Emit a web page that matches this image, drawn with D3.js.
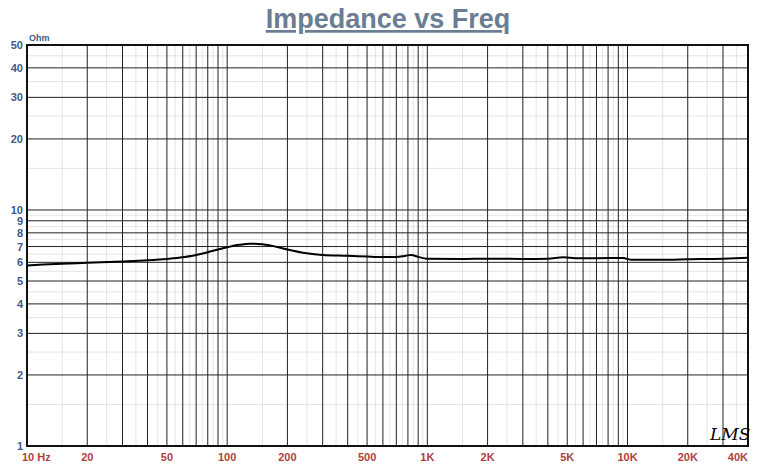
<!DOCTYPE html>
<html><head><meta charset="utf-8">
<script src="https://cdn.jsdelivr.net/npm/d3@7"></script>
<style>body{margin:0;background:#fff}</style></head>
<body><svg id="c" width="765" height="476"></svg>
<script>
var freq = [10, 12, 15, 20, 30, 40, 50, 60, 70, 80, 90, 100, 115, 130, 150, 180, 200, 250, 300, 400, 500, 600, 700, 780, 830, 900, 1000, 1500, 2000, 3000, 4000, 4800, 5500, 7000, 9500, 10500, 15000, 20000, 30000, 40000];
var ohm  = [5.82, 5.87, 5.92, 5.97, 6.05, 6.12, 6.2, 6.3, 6.45, 6.62, 6.8, 6.95, 7.12, 7.2, 7.15, 6.95, 6.8, 6.55, 6.45, 6.4, 6.35, 6.32, 6.32, 6.4, 6.45, 6.33, 6.22, 6.2, 6.22, 6.2, 6.22, 6.3, 6.25, 6.25, 6.26, 6.15, 6.15, 6.18, 6.22, 6.28];
var xTicks = [10, 20, 50, 100, 200, 500, 1000, 2000, 5000, 10000, 20000, 40000];
var xLabels = ['10  Hz', '20', '50', '100', '200', '500', '1K', '2K', '5K', '10K', '20K', '40K'];
var yTicks = [1, 2, 3, 4, 5, 6, 7, 8, 9, 10, 20, 30, 40, 50];

var svg = d3.select('#c');
var L = 27, R = 748, T = 45, B = 446;
var x = d3.scaleLog().domain([10, 40000]).range([L, R]);
var y = d3.scaleLog().domain([1, 50]).range([B, T]);

// grid lines
var major = [], minor = [];
[1, 10, 100, 1000, 10000].forEach(function(d){
	for (var k = 1; k < 10; k++) {
		if (d*k >= 10 && d*k <= 40000) major.push(d*k);
		if (d*(k+0.5) > 10 && d*(k+0.5) < 40000) minor.push(d*(k+0.5));
	}
});
var ymajor = [], yminor = [];
[1, 10].forEach(function(d){
	for (var k = 1; k < 10; k++) {
		if (d*k <= 50) ymajor.push(d*k);
		if (d*(k+0.5) < 50) yminor.push(d*(k+0.5));
	}
});
var g = svg.append('g');
g.selectAll('.vm').data(minor).enter().append('line')
	.attr('x1', x).attr('x2', x).attr('y1', T).attr('y2', B).attr('stroke', '#ddd').attr('stroke-width', 0.8);
g.selectAll('.hm').data(yminor).enter().append('line')
	.attr('y1', y).attr('y2', y).attr('x1', L).attr('x2', R).attr('stroke', '#ddd').attr('stroke-width', 0.8);
g.selectAll('.v').data(major).enter().append('line')
	.attr('x1', x).attr('x2', x).attr('y1', T).attr('y2', B).attr('stroke', '#222').attr('stroke-width', 1);
g.selectAll('.h').data(ymajor).enter().append('line')
	.attr('y1', y).attr('y2', y).attr('x1', L).attr('x2', R).attr('stroke', '#222').attr('stroke-width', 1);
svg.append('rect').attr('x', L).attr('y', T).attr('width', R-L).attr('height', B-T)
	.attr('fill', 'none').attr('stroke', '#111').attr('stroke-width', 2);

// labels
svg.selectAll('.xl').data(xTicks).enter().append('text')
	.attr('x', function(d, i){ return i === 0 ? L - 5 : x(d); })
	.attr('y', B + 15)
	.attr('text-anchor', function(d, i){ return i === 0 ? 'start' : (i === xTicks.length-1 ? 'end' : 'middle'); })
	.attr('font-family', 'Arial Narrow, Liberation Sans Narrow, Liberation Sans, sans-serif')
	.attr('font-size', 11).attr('font-weight', 'bold').attr('fill', '#b04040')
	.attr('transform', 'translate(0,0)')
	.text(function(d, i){ return xLabels[i]; });
svg.selectAll('.yl').data(yTicks).enter().append('text')
	.attr('x', L - 4).attr('y', function(d){ return y(d) + 4; })
	.attr('text-anchor', 'end')
	.attr('font-family', 'Liberation Sans, sans-serif')
	.attr('font-size', 11).attr('font-weight', 'bold').attr('fill', '#3c5a8a')
	.text(function(d){ return d; });
svg.append('text').attr('x', L + 2).attr('y', T - 4)
	.attr('font-family', 'Liberation Sans, sans-serif').attr('font-size', 9).attr('font-weight', 'bold')
	.attr('fill', '#3c5a8a').text('Ohm');

// title
svg.append('text').attr('x', 388).attr('y', 28).attr('text-anchor', 'middle')
	.attr('font-family', 'Liberation Sans Narrow, Liberation Sans, sans-serif')
	.attr('font-size', 27).attr('font-weight', 'bold').attr('fill', '#6a7d92')
	.attr('text-decoration', 'underline').text('Impedance vs Freq');

// curve
var line = d3.line().x(function(d){ return x(d[0]); }).y(function(d){ return y(d[1]); }).curve(d3.curveMonotoneX);
svg.append('path').datum(d3.zip(freq, ohm)).attr('d', line)
	.attr('fill', 'none').attr('stroke', '#000').attr('stroke-width', 2);

// logo
svg.append('text').attr('x', 710).attr('y', 440).attr('font-family', 'DejaVu Serif, serif')
	.attr('font-style', 'italic').attr('font-size', 17).attr('fill', '#000').text('LMS');
</script></body></html>
